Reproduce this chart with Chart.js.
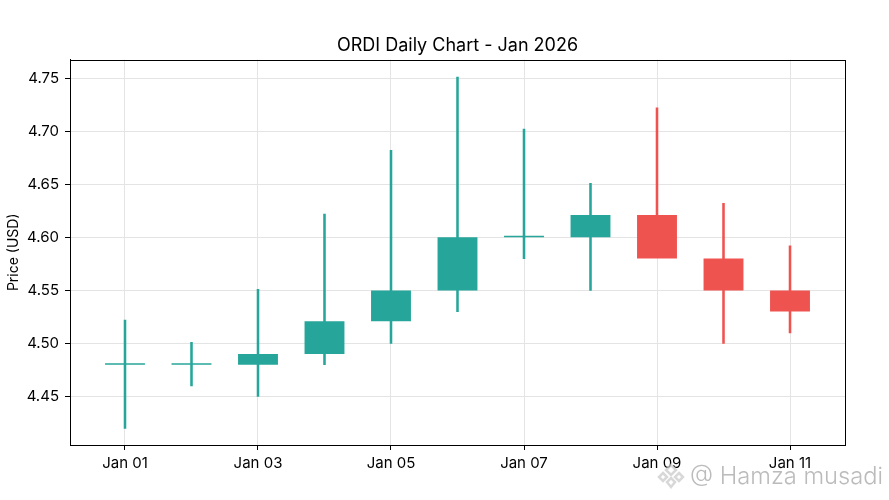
<!DOCTYPE html>
<html>
<head>
<meta charset="utf-8">
<title>ORDI Daily Chart - Jan 2026</title>
<script src="https://cdn.jsdelivr.net/npm/chart.js@4/dist/chart.umd.min.js"></script>
<style>
  html, body { margin: 0; padding: 0; background: #fff; }
  #wrap { position: relative; width: 889px; height: 500px; overflow: hidden; }
  #mark { position: absolute; left: 657px; top: 461px; display: flex; align-items: center; gap: 5px;
          font: 300 23.7px Inter, sans-serif; color: rgba(170,170,170,0.8); white-space: nowrap; }
</style>
</head>
<body>
<div id="wrap">
  <canvas id="chart" width="889" height="500"></canvas>
  <div id="mark">
    <svg width="28" height="28" viewBox="0 0 28 28" fill="none" stroke="rgba(200,200,200,0.7)" stroke-width="2.5">
      <path d="M14 3l5 5-5 5-5-5zM6 11l4 4-4 4-4-4zM22 11l4 4-4 4-4-4zM14 16l4 4-4 5-4-5z"/>
    </svg>
    <span>@ Hamza musadi</span>
  </div>
</div>
<script>
const days = ["Jan 01","Jan 02","Jan 03","Jan 04","Jan 05","Jan 06","Jan 07","Jan 08","Jan 09","Jan 10","Jan 11"];
const opens  = [4.48,4.48,4.48,4.49,4.521,4.55,4.60,4.60,4.621,4.58,4.55];
const closes = [4.48,4.48,4.49,4.521,4.55,4.60,4.60,4.621,4.58,4.55,4.53];
const lows   = [4.42,4.46,4.45,4.48,4.50,4.53,4.58,4.55,4.581,4.50,4.51];
const highs  = [4.522,4.501,4.551,4.622,4.682,4.751,4.702,4.651,4.722,4.632,4.592];
const xTicks = [0,2,4,6,8,10];
const yTicks = [4.45,4.50,4.55,4.60,4.65,4.70,4.75];

const UP = "#26a69a", DOWN = "#ef5350";
const FONT = "Inter, sans-serif";
const colors = opens.map((o, i) => closes[i] >= o ? UP : DOWN);

const frame = {
  id: "frame",
  afterDraw(chart) {
    const a = chart.chartArea, c = chart.ctx;
    c.save();
    c.strokeStyle = "#000";
    c.lineWidth = 1;
    c.strokeRect(Math.round(a.left) + 0.5, Math.round(a.top) + 0.5, Math.round(a.width), Math.round(a.height));
    c.restore();
  }
};

new Chart(document.getElementById("chart"), {
  type: "bar",
  data: {
    datasets: [
      {
        label: "Body",
        data: days.map((d, i) => ({ x: i, y: [opens[i], closes[i]] })),
        backgroundColor: colors,
        barPercentage: 0.6,
        categoryPercentage: 1,
        minBarLength: 1.5,
        grouped: false,
        order: 1
      },
      {
        label: "Wick",
        data: days.map((d, i) => ({ x: i, y: [lows[i], highs[i]] })),
        backgroundColor: colors,
        barThickness: 1.9,
        grouped: false,
        order: 2
      }
    ]
  },
  options: {
    responsive: false,
    animation: false,
    devicePixelRatio: 1,
    layout: { padding: { top: 0, right: 44, bottom: 0, left: 0 } },
    plugins: {
      legend: { display: false },
      tooltip: { enabled: false },
      title: {
        display: true,
        fullSize: false,
        text: "ORDI Daily Chart - Jan 2026",
        color: "#000",
        font: { family: FONT, size: 18, weight: "normal" },
        padding: { top: 35, bottom: 3 }
      }
    },
    scales: {
      x: {
        type: "linear",
        offset: false,
        stacked: false,
        min: -0.827,
        max: 10.827,
        afterBuildTicks(s) { s.ticks = xTicks.map(v => ({ value: v })); },
        afterFit(s) { s.height = 55; },
        ticks: {
          autoSkip: false, maxRotation: 0, color: "#000", padding: 4,
          font: { family: FONT, size: 15 },
          callback: v => days[v]
        },
        grid: { offset: false, color: "#e4e4e4", lineWidth: 1, tickColor: "#000", tickLength: 5 },
        border: { color: "#000" }
      },
      y: {
        min: 4.4043,
        max: 4.7675,
        afterBuildTicks(s) { s.ticks = yTicks.map(v => ({ value: v })); },
        afterFit(s) { s.width = 70; },
        ticks: {
          color: "#000", padding: 6,
          font: { family: FONT, size: 15 },
          callback: v => v.toFixed(2)
        },
        grid: { color: "#e4e4e4", lineWidth: 1, tickColor: "#000", tickLength: 5 },
        border: { color: "#000" },
        title: {
          display: true, text: "Price (USD)", color: "#000",
          font: { family: FONT, size: 14 }, padding: { top: 5, bottom: 6 }
        }
      }
    }
  },
  plugins: [frame]
});
</script>
</body>
</html>
